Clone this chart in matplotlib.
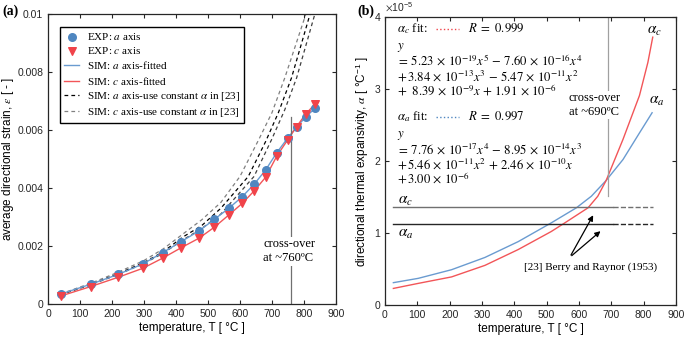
import numpy as np
import matplotlib
matplotlib.use('Agg')
import matplotlib.pyplot as plt

plt.rcParams['font.family'] = 'Liberation Sans'
plt.rcParams['mathtext.fontset'] = 'stix'

# ---- panel (a) data: average directional strain ----
T_exp = [40, 133, 219, 296, 358, 416, 472, 520, 565, 607, 645, 680, 715, 749, 777, 806, 835]
eps_a = [0.000345, 0.00068, 0.00102, 0.00138, 0.00177, 0.00215, 0.00252, 0.00292, 0.0033, 0.0037,
         0.00414, 0.00462, 0.00522, 0.00572, 0.0061, 0.00646, 0.00675]
eps_c = [0.000276, 0.0006, 0.00092, 0.00123, 0.00158, 0.00194, 0.00227, 0.00265, 0.00307, 0.00347,
         0.00391, 0.00437, 0.00510, 0.00566, 0.00612, 0.00656, 0.0069]

# constant-alpha simulations
T_const_c = [40, 135, 220, 300, 360, 420, 480, 540, 600, 660, 700, 740, 806]
eps_const_c = [0.00035, 0.00072, 0.0011, 0.0015, 0.0019, 0.0024, 0.0029, 0.0035, 0.0044, 0.0057, 0.0066, 0.0078, 0.0100]
T_const_a = [40, 135, 220, 300, 360, 420, 480, 540, 626, 680, 720, 761, 819]
eps_const_a = [0.00033, 0.00069, 0.00105, 0.00143, 0.0018, 0.0023, 0.0027, 0.0033, 0.0044, 0.0056, 0.0066, 0.0078, 0.0100]
T_const_3 = [40, 135, 220, 300, 360, 420, 480, 540, 644, 700, 740, 777, 834]
eps_const_3 = [0.00032, 0.00067, 0.00102, 0.0014, 0.00175, 0.0022, 0.0026, 0.0031, 0.0044, 0.0057, 0.0067, 0.0078, 0.0100]

# ---- panel (b) data: thermal expansivity (x 1e-5 / degC) ----
T_alpha_a = [26, 103, 206, 309, 412, 514, 592, 638, 684, 736, 787, 826]
alpha_a = [0.31, 0.37, 0.49, 0.66, 0.88, 1.14, 1.35, 1.51, 1.73, 2.02, 2.39, 2.67]
T_alpha_c = [26, 103, 206, 309, 412, 514, 556, 628, 658, 684, 736, 787, 813, 828]
alpha_c = [0.23, 0.30, 0.39, 0.55, 0.77, 1.02, 1.14, 1.35, 1.51, 1.73, 2.30, 2.91, 3.37, 3.72]

berry_a = 1.12
berry_c = 1.36

fit_c = ['$y$',
         r'$=\,5.23\,\times\,10^{-19}x^5\,-\,7.60\,\times\,10^{-16}x^4$',
         r'$+\,3.84\,\times\,10^{-13}x^3\,-\,5.47\,\times\,10^{-11}x^2$',
         r'$+\ \ 8.39\,\times\,10^{-9}x\,+\,1.91\,\times\,10^{-6}$']
fit_a = ['$y$',
         r'$=\,7.76\,\times\,10^{-17}x^4\,-\,8.95\,\times\,10^{-14}x^3$',
         r'$+\,5.46\,\times\,10^{-11}x^2\,+\,2.46\,\times\,10^{-10}x$',
         r'$+\,3.00\,\times\,10^{-6}$']

blue = '#4f86c0'
red = '#f0434a'
lblue = '#6a9bd0'
lred = '#f25558'

fig = plt.figure(figsize=(6.85, 3.4), dpi=100)
ax1 = fig.add_axes([0.0701, 0.1059, 0.4204, 0.8529])
ax2 = fig.add_axes([0.562, 0.103, 0.4249, 0.847])

for ax in (ax1, ax2):
    ax.tick_params(direction='in', top=True, right=True, labelsize=7.5, length=3, width=0.8, colors='#262626')
    for s in ax.spines.values():
        s.set_color('#262626')
        s.set_linewidth(0.9)

serif = 'Liberation Serif'

# ---------------- (a) ----------------
ax1.plot(T_const_a, eps_const_a, '--', color='black', lw=0.9, dashes=(3, 2.5), label=r'SIM: $a$ axis-use constant $\alpha$ in [23]')
ax1.plot(T_const_c, eps_const_c, '--', color='#808080', lw=0.9, dashes=(3, 2.5), label=r'SIM: $c$ axis-use constant $\alpha$ in [23]')
ax1.plot(T_const_3, eps_const_3, '--', color='#404040', lw=0.9, dashes=(3, 2.5))
ax1.plot(T_exp, eps_a, '-', color=lblue, lw=1.0, label=r'SIM: $a$ axis-fitted')
ax1.plot(T_exp, eps_c, '-', color=lred, lw=1.0, label=r'SIM: $c$ axis-fitted')
ax1.scatter(T_exp, eps_a, s=30, color=blue, zorder=3, label=r'EXP: $a$ axis')
ax1.scatter(T_exp, eps_c, s=30, color=red, marker='v', zorder=3, label=r'EXP: $c$ axis')

ax1.plot([760, 760], [0, 0.00646], color='#707070', lw=0.9)
ax1.text(672, 0.00182, 'cross-over\nat ~760ºC', family=serif, fontsize=9, ha='left', va='center',
         linespacing=1.25, bbox=dict(facecolor='white', edgecolor='none', pad=1))

ax1.set_xlim(0, 900)
ax1.set_ylim(0, 0.01)
ax1.set_xticks(range(0, 901, 100))
ax1.set_yticks([0, 0.002, 0.004, 0.006, 0.008, 0.01])
ax1.set_yticklabels(['0', '0.002', '0.004', '0.006', '0.008', '0.01'])
ax1.set_xlabel('temperature, T [ °C ]', fontsize=8.5, labelpad=2)
ax1.set_ylabel(r'average directional strain, $\epsilon$ [ - ]', fontsize=8.5, labelpad=0.5)

h, l = ax1.get_legend_handles_labels()
order = [l.index(x) for x in [r'EXP: $a$ axis', r'EXP: $c$ axis', r'SIM: $a$ axis-fitted', r'SIM: $c$ axis-fitted',
                              r'SIM: $a$ axis-use constant $\alpha$ in [23]', r'SIM: $c$ axis-use constant $\alpha$ in [23]']]
leg = ax1.legend([h[i] for i in order], [l[i] for i in order], loc='upper left', bbox_to_anchor=(0.022, 0.975),
                 prop={'family': serif, 'size': 8}, fancybox=False, framealpha=1, edgecolor='black',
                 handlelength=1.4, labelspacing=0.3, borderpad=0.35, handletextpad=0.7)
leg.get_frame().set_linewidth(1.0)

fig.text(0.003, 0.955, '(a)', family=serif, fontweight='bold', fontsize=10)

# ---------------- (b) ----------------
ax2.plot(T_alpha_a, alpha_a, color=lblue, lw=1.0)
ax2.plot(T_alpha_c, alpha_c, color=lred, lw=1.0)

ax2.plot([25, 705], [berry_c, berry_c], color='#707070', lw=1.0)
ax2.plot([705, 828], [berry_c, berry_c], '--', color='#707070', lw=1.0)
ax2.plot([25, 705], [berry_a, berry_a], color='#262626', lw=1.0)
ax2.plot([705, 828], [berry_a, berry_a], '--', color='#262626', lw=1.0)
ax2.text(40, 1.45, r'$\alpha_c$', fontsize=11, ha='left', va='center')
ax2.text(40, 0.99, r'$\alpha_a$', fontsize=11, ha='left', va='center')

ax2.plot([690, 690], [1.51, 4], color='#a0a0a0', lw=0.9)
ax2.text(568, 2.78, 'cross-over\nat ~690ºC', family=serif, fontsize=9, ha='left', va='center',
         linespacing=1.25, bbox=dict(facecolor='white', edgecolor='none', pad=0.5))

ax2.text(833, 3.8, r'$\alpha_c$', fontsize=11, ha='center', va='center')
ax2.text(840, 2.83, r'$\alpha_a$', fontsize=11, ha='center', va='center')

ax2.annotate('', xy=(648, 1.28), xytext=(571, 0.66),
             arrowprops=dict(arrowstyle='-|>', color='black', lw=0.9, mutation_scale=8))
ax2.annotate('', xy=(673, 1.05), xytext=(571, 0.66),
             arrowprops=dict(arrowstyle='-|>', color='black', lw=0.9, mutation_scale=8))
ax2.text(636, 0.52, '[23] Berry and Raynor (1953)', family=serif, fontsize=8, ha='center', va='center',
         bbox=dict(facecolor='white', edgecolor='none', pad=0.5))

fs = 9.2
x0 = 37
ax2.text(x0, 3.84, r'$\alpha_c$ fit:', family=serif, fontsize=fs, ha='left', va='center')
ax2.plot([157, 228], [3.84, 3.84], ':', color=red, lw=1.0)
ax2.text(256, 3.84, r'$R\ =\ 0.999$', fontsize=fs, ha='left', va='center')
ax2.text(x0, 3.67, '\n'.join(fit_c), fontsize=fs, ha='left', va='top', linespacing=0.98)

ax2.text(x0, 2.61, r'$\alpha_a$ fit:', family=serif, fontsize=fs, ha='left', va='center')
ax2.plot([157, 228], [2.61, 2.61], ':', color=blue, lw=1.0)
ax2.text(256, 2.61, r'$R\ =\ 0.997$', fontsize=fs, ha='left', va='center')
ax2.text(x0, 2.44, '\n'.join(fit_a), fontsize=fs, ha='left', va='top', linespacing=0.98)

ax2.set_xlim(0, 900)
ax2.set_ylim(0, 4)
ax2.set_xticks(range(0, 901, 100))
ax2.set_yticks([0, 1, 2, 3, 4])
ax2.set_xlabel('temperature, T [ °C ]', fontsize=8.5, labelpad=2)
ax2.set_ylabel(r'directional thermal expansivity, $\alpha$ [ °C$^{\mathregular{-1}}$ ]', fontsize=8.5, labelpad=2)
ax2.text(0.0, 1.01, r'$\times$10$^{\mathregular{-5}}$', transform=ax2.transAxes, fontsize=7.5, color='#262626',
         ha='left', va='bottom')

fig.text(0.521, 0.955, '(b)', family=serif, fontweight='bold', fontsize=10)

fig.savefig('out.png', dpi=100)
